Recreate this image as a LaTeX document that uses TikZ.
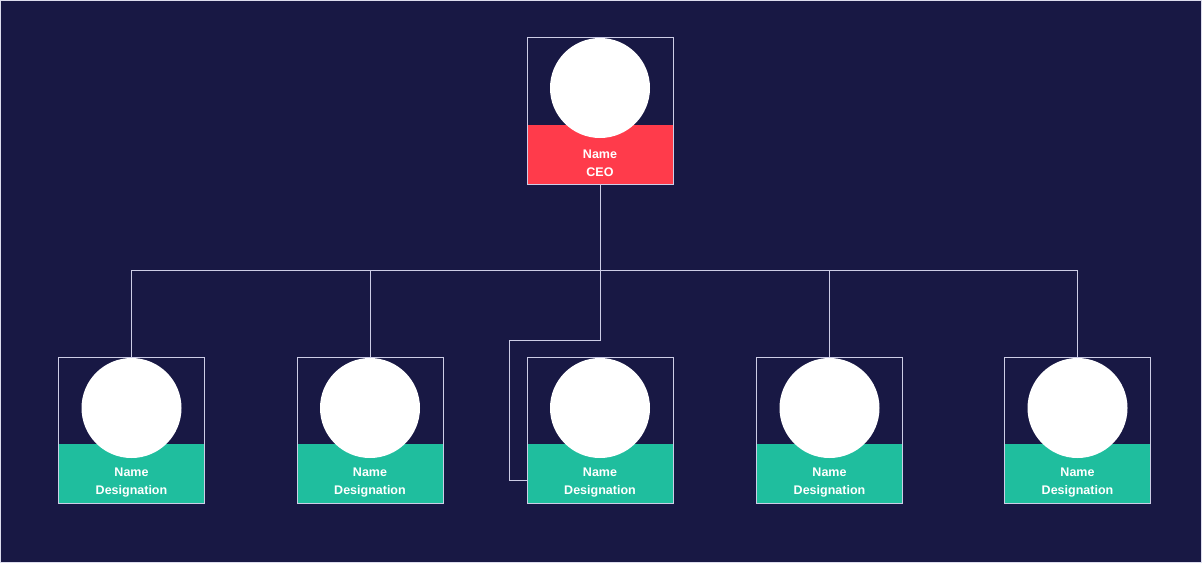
\documentclass[tikz,border=0pt]{standalone}
\usepackage{fontspec}
\setmainfont{Liberation Sans}
\usetikzlibrary{positioning, calc}
\definecolor{orgbg}{RGB}{24,24,68}
\definecolor{orgred}{RGB}{255,59,75}
\definecolor{orggreen}{RGB}{31,190,158}
\definecolor{orgline}{RGB}{205,205,230}

\tikzset{
  cardbox/.style={draw=orgline, line width=1pt, minimum width=146pt,
    minimum height=146pt, inner sep=0pt},
  band/.style={minimum width=146pt, minimum height=59pt, inner sep=0pt,
    anchor=south},
  photo/.style={circle, fill=white, minimum size=100pt, inner sep=0pt},
  caption/.style={text=white, align=center, font=\bfseries\fontsize{12.5}{18}\selectfont},
  wire/.style={draw=orgline, line width=1pt}
}

\begin{document}
\begin{tikzpicture}[x=1pt, y=-1pt]
  \useasboundingbox (0,0) rectangle (1202,563);
  \fill[orgbg] (0,0) rectangle (1202,563);
  \draw[orgline!70, line width=1pt] (0.5,0.5) rectangle (1201.5,562.5);

  % top card
  \node[band, fill=orgred] (ceoband) at (600,184) {};
  \node[photo] (ceophoto) at (600,88) {};
  \node[cardbox, minimum height=147pt] (ceo) at (600,110.5) {};
  \node[caption] (ceotext) at (600,163) {Name\\CEO};

  % five cards in the second row
  \foreach \x/\n in {131.5/c1, 370/c2, 600/c3, 829.5/c4, 1077.5/c5}{
    \node[band, fill=orggreen] (\n band) at (\x,503) {};
    \node[photo] (\n photo) at (\x,408) {};
    \node[cardbox] (\n) at (\x,430) {};
    \node[caption] (\n text) at (\x,483) {Name\\Designation};
  }

  % connectors
  \coordinate (bus) at (600,270);
  \coordinate (kink) at (509,340);
  \draw[wire] (ceo.south) -- (bus);
  \draw[wire] (c1.north) -- (c1.north |- bus) -- (c5.north |- bus) -- (c5.north);
  \draw[wire] (c2.north) -- (c2.north |- bus);
  \draw[wire] (c4.north) -- (c4.north |- bus);
  \draw[wire] (bus) |- (kink) |- (c3.west |- 0,480);
\end{tikzpicture}
\end{document}
